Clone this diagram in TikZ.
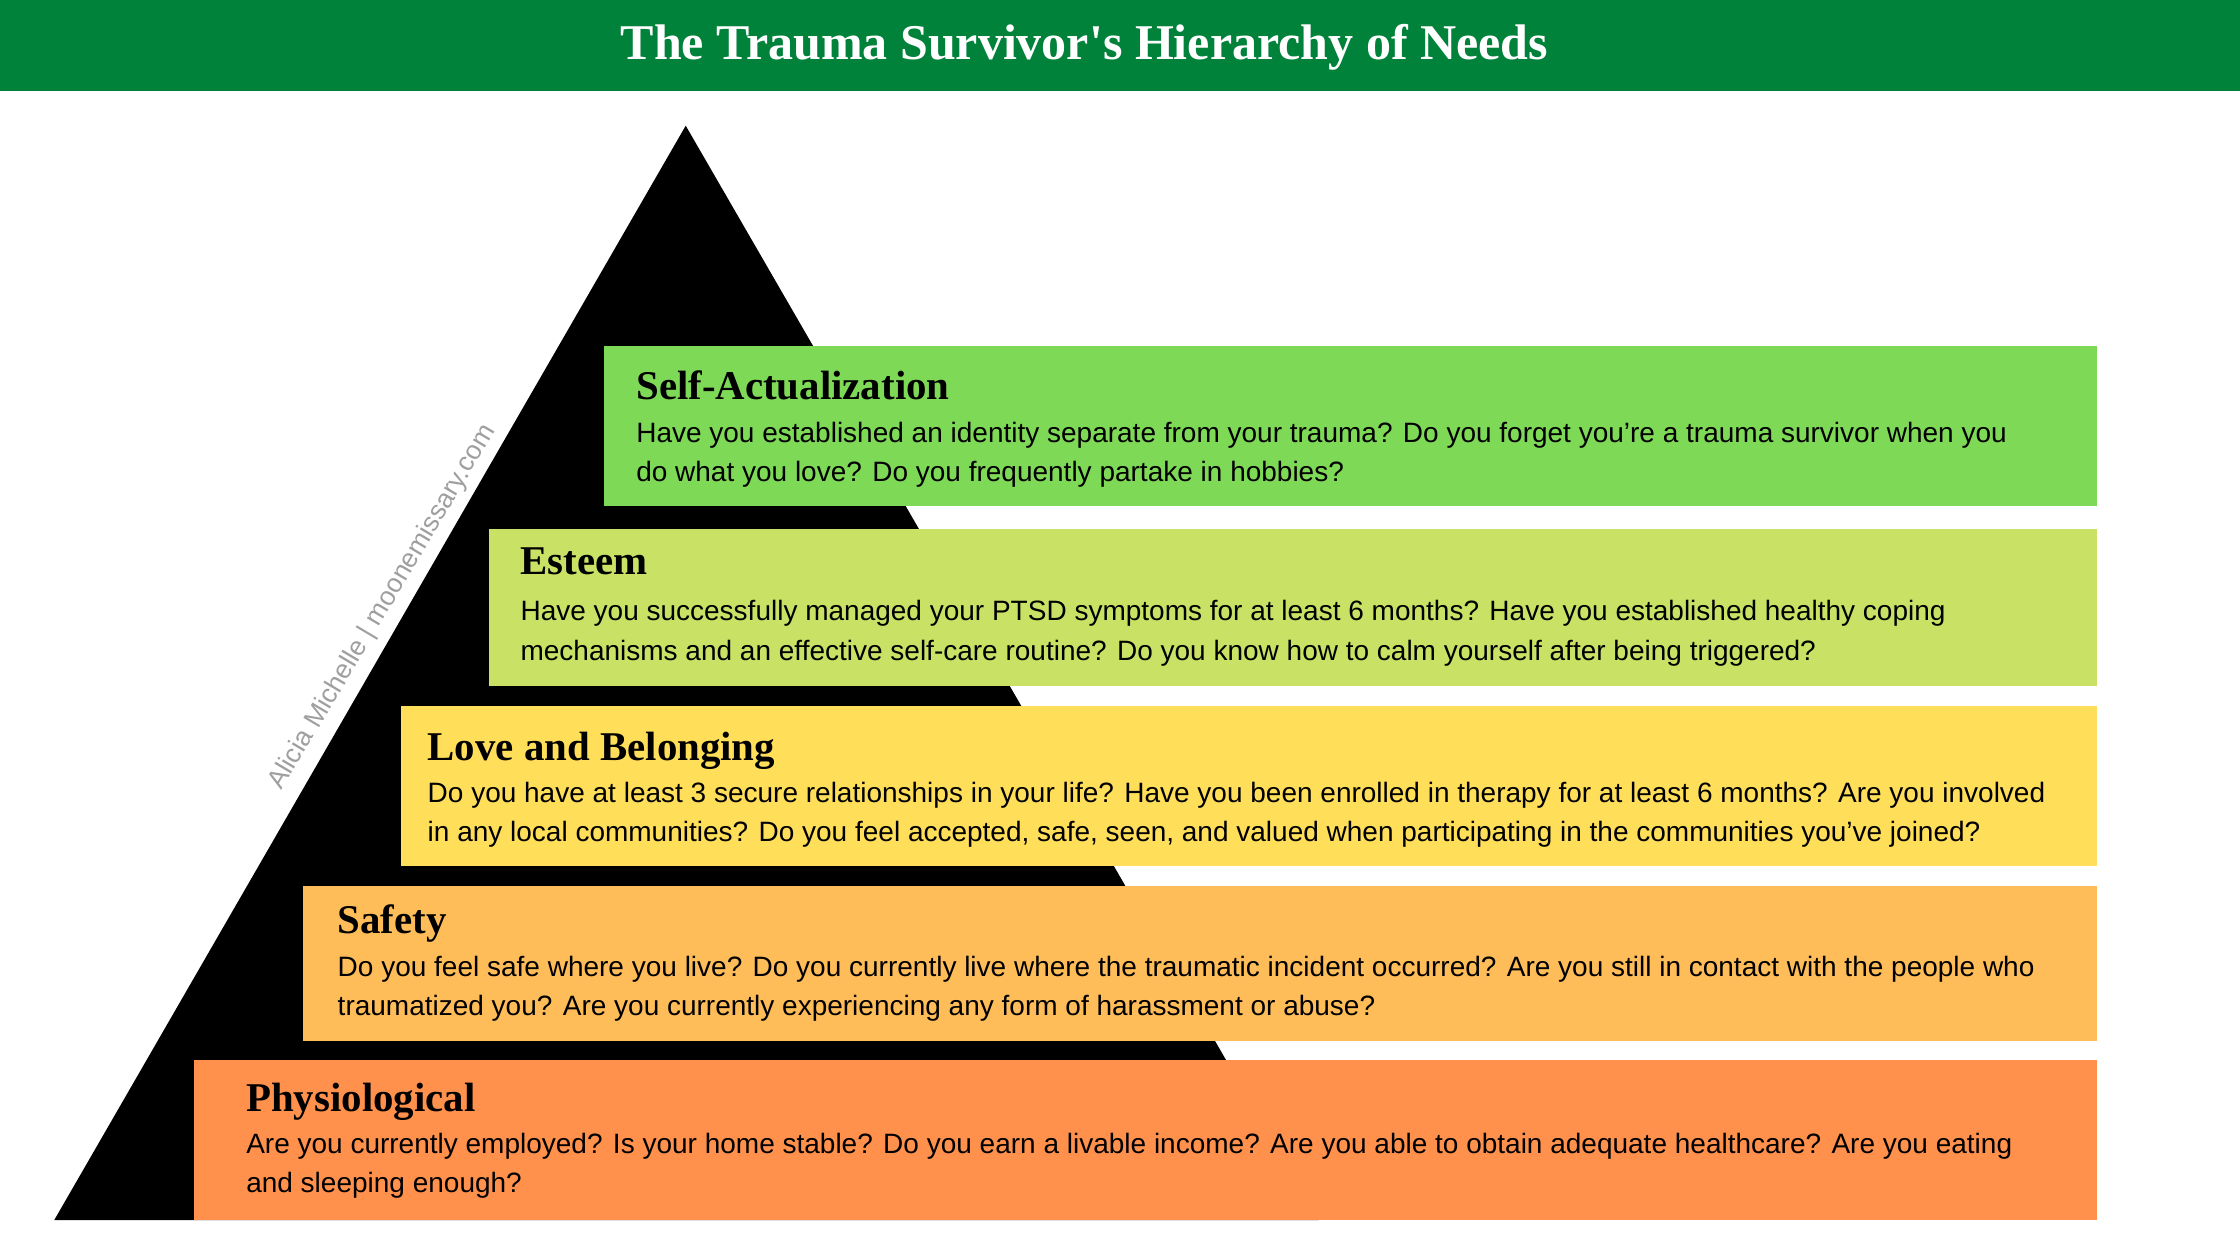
\documentclass[tikz,border=0pt]{standalone}
\usepackage{fontspec}
\setmainfont{Liberation Sans}
\newfontfamily\headfont{Liberation Serif}
\definecolor{hdrgreen}{RGB}{0,130,58}
\definecolor{selfcol}{RGB}{126,217,87}
\definecolor{esteemcol}{RGB}{201,226,101}
\definecolor{lovecol}{RGB}{255,222,89}
\definecolor{safecol}{RGB}{255,189,89}
\definecolor{physcol}{RGB}{255,145,77}
\begin{document}
\begin{tikzpicture}[x=0.5pt,y=-0.5pt,
  level/.style={anchor=north west,inner sep=0pt,font=\headfont\bfseries\fontsize{14.3}{16}\selectfont},
  body/.style={anchor=north west,inner sep=0pt,align=left,font=\fontsize{9.8}{13.7}\selectfont}]
\useasboundingbox (0,0) rectangle (1568,882);
\fill[white] (0,0) rectangle (1568,882);

% header
\fill[hdrgreen] (0,0) rectangle (1568,64);
\node[text=white,font=\headfont\bfseries\fontsize{17.5}{20}\selectfont] (title) at (759,33) {The Trauma Survivor's Hierarchy of Needs};

% pyramid
\fill[black] (480,88) -- (923,854) -- (38,854) -- cycle;
\node[text=gray!75,rotate=59.3,font=\fontsize{9.3}{11}\selectfont] (credit) at (268,425) {Alicia Michelle | moonemissary.com};

% levels
\fill[selfcol] (423,242) rectangle (1468,354);
\node[level] (selfT) at (445,259) {Self-Actualization};
\node[body] (selfB) at (445,295) {Have you established an identity separate from your trauma? Do you forget you’re a trauma survivor when you\\do what you love? Do you frequently partake in hobbies?};

\fill[esteemcol] (342,370) rectangle (1468,480);
\node[level] (estT) at (364,383) {Esteem};
\node[body] (estB) at (364,420) {Have you successfully managed your PTSD symptoms for at least 6 months? Have you established healthy coping\\mechanisms and an effective self-care routine? Do you know how to calm yourself after being triggered?};

\fill[lovecol] (281,494) rectangle (1468,606);
\node[level] (loveT) at (299,512) {Love and Belonging};
\node[body] (loveB) at (299,547) {Do you have at least 3 secure relationships in your life? Have you been enrolled in therapy for at least 6 months? Are you involved\\in any local communities? Do you feel accepted, safe, seen, and valued when participating in the communities you’ve joined?};

\fill[safecol] (212,620) rectangle (1468,729);
\node[level] (safeT) at (236,633) {Safety};
\node[body] (safeB) at (236,669) {Do you feel safe where you live? Do you currently live where the traumatic incident occurred? Are you still in contact with the people who\\traumatized you? Are you currently experiencing any form of harassment or abuse?};

\fill[physcol] (136,742) rectangle (1468,854);
\node[level] (physT) at (172,758) {Physiological};
\node[body] (physB) at (172,793) {Are you currently employed? Is your home stable? Do you earn a livable income? Are you able to obtain adequate healthcare? Are you eating\\and sleeping enough?};
\end{tikzpicture}
\end{document}
